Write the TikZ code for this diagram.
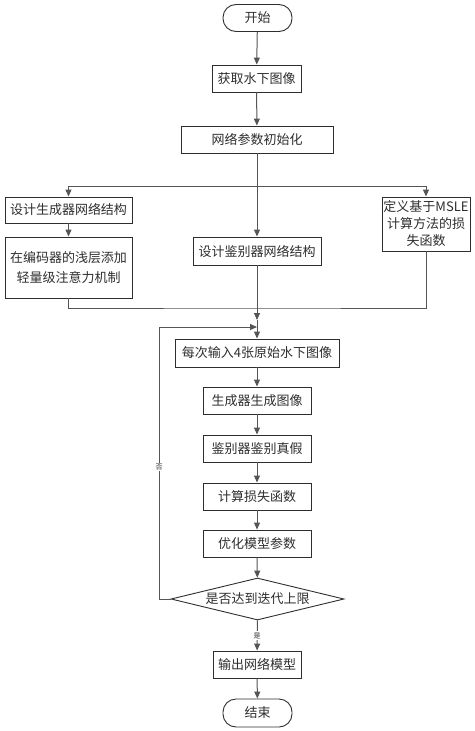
\documentclass[tikz,border=0pt]{standalone}
\usepackage{fontspec}
\setmainfont{Noto Sans CJK SC}
\usetikzlibrary{arrows.meta,positioning,shapes.geometric}
\definecolor{ink}{HTML}{2E2E2E}
\definecolor{wire}{HTML}{555555}
\tikzset{
  stepbox/.style={rectangle, draw=ink, line width=0.9pt, text=ink, inner sep=0pt, align=center, font=\fontsize{13}{17}\selectfont},
  termbox/.style={stepbox, rounded corners=13pt},
  decide/.style={diamond, draw=ink, line width=0.9pt, text=ink, inner sep=0pt, aspect=4, font=\fontsize{13}{17}\selectfont},
  flow/.style={draw=wire, line width=1pt, -{Triangle[length=7pt,width=6pt]}},
  link/.style={draw=wire, line width=1pt},
  tag/.style={fill=white, text=ink, inner sep=1pt, font=\fontsize{7}{8}\selectfont}
}

\begin{document}
\begin{tikzpicture}[x=1pt,y=-1pt]
\useasboundingbox (0,0) rectangle (474,731);

% main column
\node[termbox, minimum width=69pt, minimum height=27pt] (start) at (257.5,18) {开始};
\node[stepbox, minimum width=89pt, minimum height=27pt] (fetch) at (256.5,78.5) {获取水下图像};
\node[stepbox, minimum width=152pt, minimum height=27pt] (init) at (257,139.5) {网络参数初始化};

% three design branches
\node[stepbox, minimum width=127pt, minimum height=26pt] (gen) at (68.5,210) {设计生成器网络结构};
\node[stepbox, minimum width=127pt, minimum height=61pt, font=\fontsize{13}{20}\selectfont] (attn) at (68.5,267.5) {在编码器的浅层添加\\轻量级注意力机制};
\node[stepbox, minimum width=128pt, minimum height=28pt] (disc) at (257,251) {设计鉴别器网络结构};
\node[stepbox, minimum width=88pt, minimum height=54pt] (loss) at (426,224) {定义基于MSLE\\计算方法的损\\失函数};

% training loop
\node[stepbox, minimum width=164pt, minimum height=28pt] (feed) at (257,353) {每次输入4张原始水下图像};
\node[stepbox, minimum width=108pt, minimum height=27pt] (make) at (257,400.5) {生成器生成图像};
\node[stepbox, minimum width=108pt, minimum height=27pt] (judge) at (257,448.5) {鉴别器鉴别真假};
\node[stepbox, minimum width=108pt, minimum height=27pt] (calc) at (257,496.5) {计算损失函数};
\node[stepbox, minimum width=108pt, minimum height=27pt] (tune) at (257,543.5) {优化模型参数};
\node[decide, minimum width=173pt, minimum height=42pt] (check) at (257.5,599) {是否达到迭代上限};
\node[stepbox, minimum width=88pt, minimum height=27pt] (out) at (257,664.5) {输出网络模型};
\node[termbox, minimum width=69pt, minimum height=28pt] (stop) at (257.5,713) {结束};

\coordinate (split) at (257,186);
\coordinate (merge) at (257,308);
\coordinate (mid) at (257,320);
\coordinate (back) at (159,327);
\coordinate (join) at (257,327);

\draw[flow] (start) -- (fetch);
\draw[flow] (fetch) -- (init);
\draw[flow] (init) -- (disc);
\draw[flow] (split) -| (gen);
\draw[flow] (split) -| (loss);
\draw[flow] (gen) -- (attn);
\draw[link] (attn.south) |- (merge) -| (loss.south);
\draw[flow] (disc) -- (mid);
\draw[flow] (mid) -- (feed);
\draw[flow] (feed) -- (make);
\draw[flow] (make) -- (judge);
\draw[flow] (judge) -- (calc);
\draw[flow] (calc) -- (tune);
\draw[flow] (tune) -- (check);
\draw[flow] (check.west) -| (back) -- (join);
\node[tag] (no) at (159,467) {否};
\draw[flow] (check) -- node[tag] (yes) {是} (out);
\draw[flow] (out) -- (stop);
\end{tikzpicture}
\end{document}
